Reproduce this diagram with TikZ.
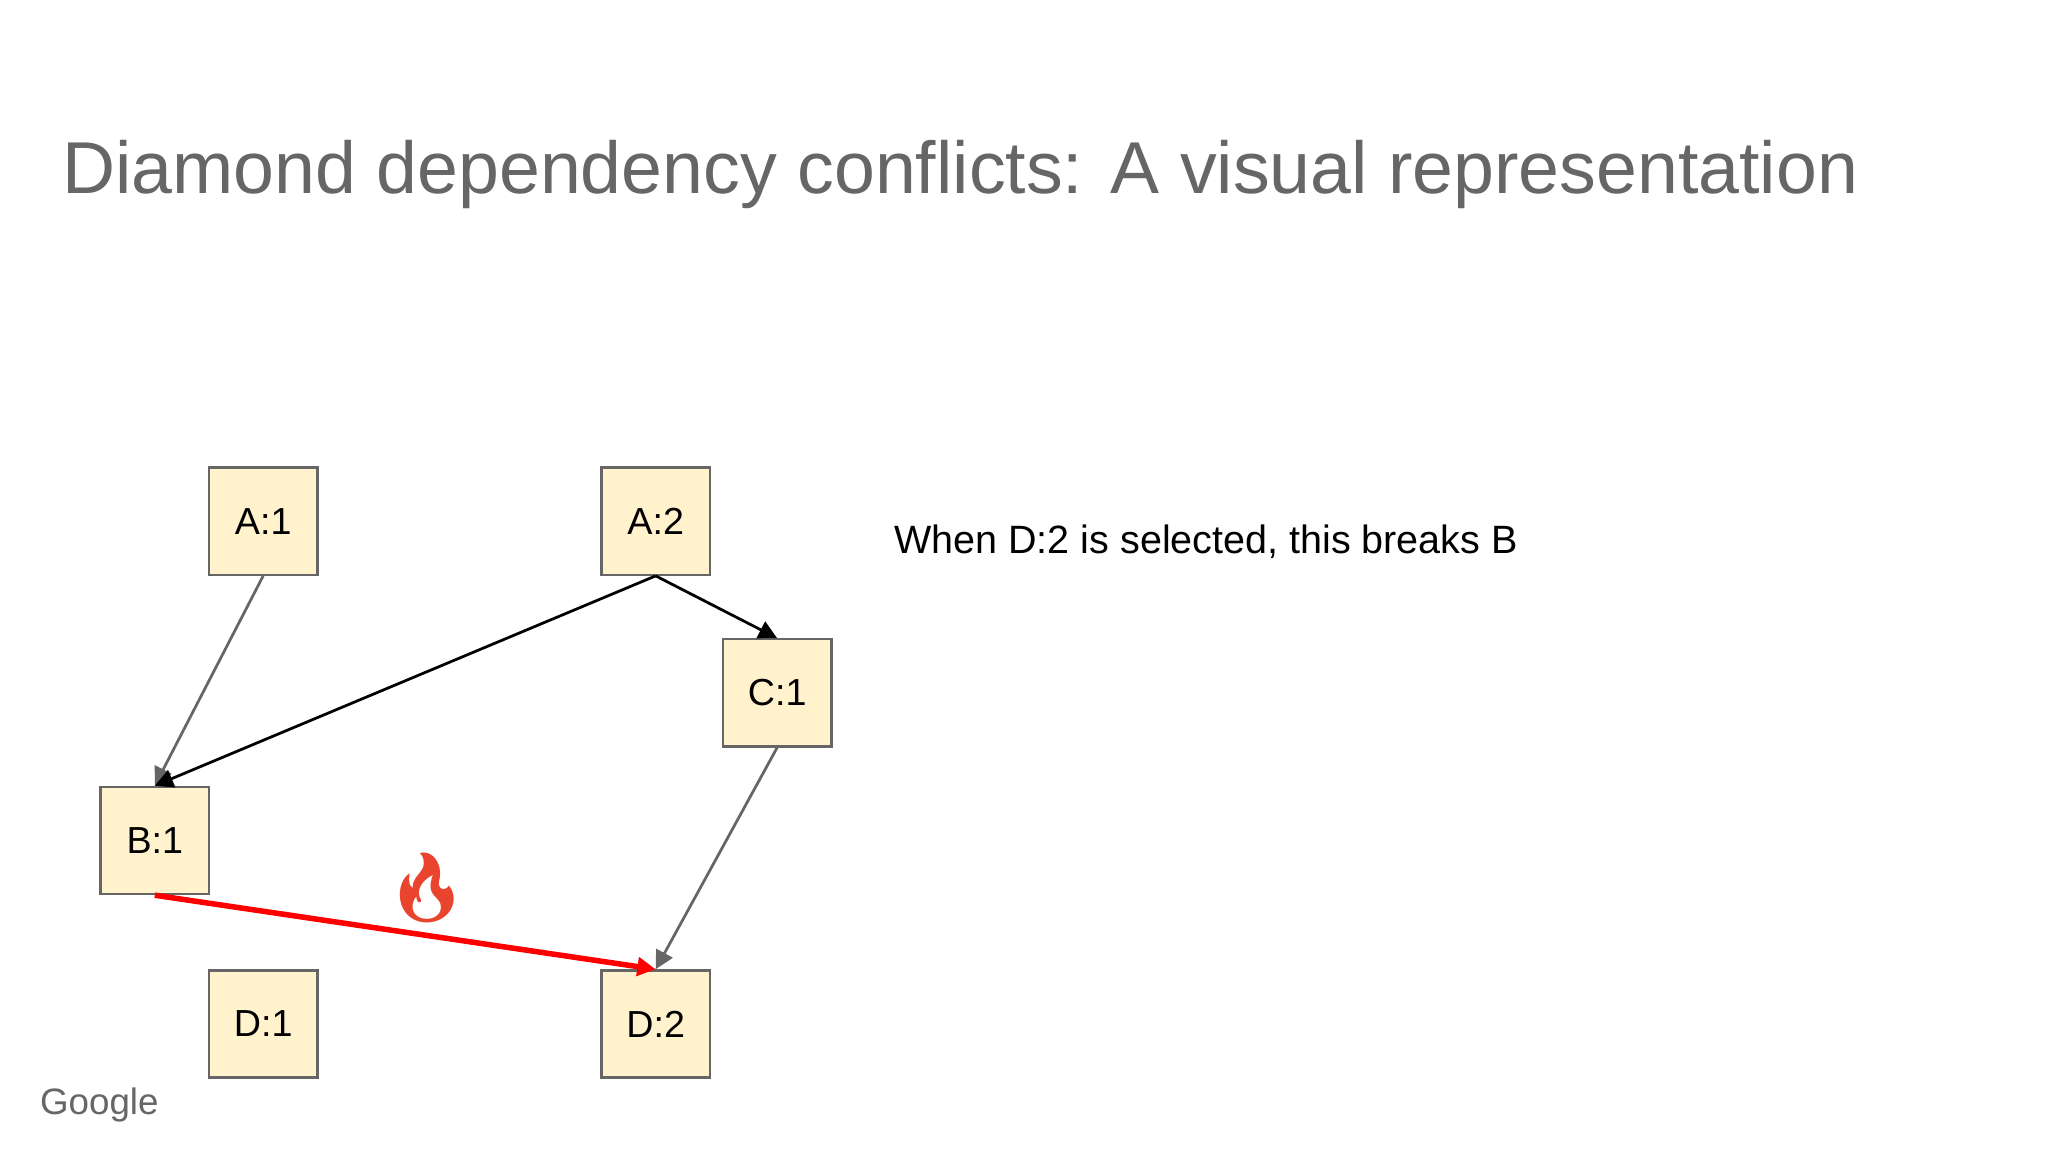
\documentclass[tikz,border=0pt]{standalone}
\usepackage{fontspec}
\setmainfont{Liberation Sans}
\newfontfamily\emojifont{Noto Emoji}
\usetikzlibrary{arrows.meta}
\definecolor{boxfill}{HTML}{FFF2CC}
\definecolor{boxline}{HTML}{666666}
\definecolor{titlegray}{HTML}{666666}
\definecolor{flame}{HTML}{E8442E}
\tikzset{
  vbox/.style={draw=boxline, fill=boxfill, minimum width=0.83cm, minimum height=0.82cm, inner sep=0pt, font=\fontsize{8.2}{9}\selectfont, line width=0.5pt},
  dep/.style={-{Triangle[length=4pt,width=4pt]}, line width=0.6pt},
  grayedge/.style={dep, draw=boxline},
}
\begin{document}
\begin{tikzpicture}[x=0.01cm,y=-0.01cm]
\useasboundingbox (0,0) rectangle (1568,882);
\node[anchor=base west, text=titlegray, font=\fontsize{16}{19}\selectfont, inner sep=0pt] (title) at (47,148) {Diamond dependency conflicts: A visual representation};
\node[vbox] (a1) at (201.5,399) {A:1};
\node[vbox] (a2) at (502,399) {A:2};
\node[vbox] (c1) at (595,530.5) {C:1};
\node[vbox] (b1) at (118.5,643.5) {B:1};
\node[vbox] (d1) at (201.5,784) {D:1};
\node[vbox] (d2) at (502,784) {D:2};
\draw[grayedge] (a1.south) -- (b1.north);
\draw[dep] (a2.south) -- (b1.north);
\draw[dep] (a2.south) -- (c1.north);
\draw[grayedge] (c1.south) -- (d2.north);
\draw[dep, draw=red, line width=1.2pt] (b1.south) -- (d2.north);
\node[text=flame, font=\emojifont\fontsize{15}{15}\selectfont, inner sep=0pt] (fire) at (327,680) {🔥};
\node[anchor=base west, inner sep=0pt, font=\fontsize{8.6}{10}\selectfont] (note) at (684,424) {When D:2 is selected, this breaks B};
\node[anchor=base west, inner sep=0pt, text=titlegray, font=\fontsize{8}{10}\selectfont] (google) at (30,853) {Google};
\end{tikzpicture}
\end{document}
